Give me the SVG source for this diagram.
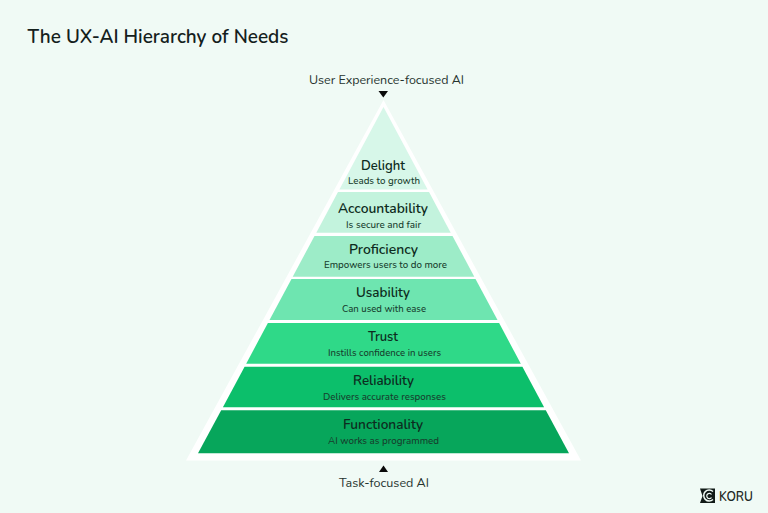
<svg xmlns="http://www.w3.org/2000/svg" width="768" height="513" viewBox="0 0 768 513">
<style>
text{font-family:"Nunito","Lato","Open Sans",sans-serif;text-anchor:middle}
.t{font-size:14px;font-weight:600;fill:#0d2b20}
.s{font-size:9.5px;font-weight:500;fill:#173d2d}
.l{font-size:12.5px;fill:#26332e}
</style>
<rect width="768" height="513" fill="#f0faf5"/>
<text x="158" y="43" font-size="19" font-weight="600" fill="#14201c" textLength="261" lengthAdjust="spacingAndGlyphs">The UX-AI Hierarchy of Needs</text>
<polygon points="383.5,100 581,460.5 186,460.5" fill="#fff"/>
<g id="label-top"><text class="l" x="386.5" y="84" textLength="155" lengthAdjust="spacingAndGlyphs">User Experience-focused AI</text></g>
<g id="connectors" fill="#0a0a0a">
<polygon points="378.5,91 388,91 383.3,97.5"/>
<polygon points="379,472 388,472 383.5,465.5"/>
</g>
<g id="delight"><polygon points="383.5,107 427.6,189.5 339.4,189.5" fill="#d7f7e9"/><text class="t" x="383" y="170" textLength="44" lengthAdjust="spacingAndGlyphs">Delight</text><text class="s" x="384" y="184" textLength="72" lengthAdjust="spacingAndGlyphs">Leads to growth</text></g>
<g id="accountability"><polygon points="338,192 429,192 450.7,232.7 316.3,232.7" fill="#c3f3dd"/><text class="t" x="383" y="213" textLength="90" lengthAdjust="spacingAndGlyphs">Accountability</text><text class="s" x="383.5" y="227.5" textLength="75" lengthAdjust="spacingAndGlyphs">Is secure and fair</text></g>
<g id="proficiency"><polygon points="314.5,236 452.5,236 474.3,276.7 292.7,276.7" fill="#9decc8"/><text class="t" x="383.5" y="254" textLength="69" lengthAdjust="spacingAndGlyphs">Proficiency</text><text class="s" x="385.5" y="268" textLength="123" lengthAdjust="spacingAndGlyphs">Empowers users to do more</text></g>
<g id="usability"><polygon points="291.5,279 475.5,279 497.5,320 269.5,320" fill="#6ee5b0"/><text class="t" x="383" y="297" textLength="54" lengthAdjust="spacingAndGlyphs">Usability</text><text class="s" x="384" y="311.5" textLength="84" lengthAdjust="spacingAndGlyphs">Can used with ease</text></g>
<g id="trust"><polygon points="267.9,323 499.1,323 520.8,363.7 246.2,363.7" fill="#2fd988"/><text class="t" x="383" y="341" textLength="30" lengthAdjust="spacingAndGlyphs">Trust</text><text class="s" x="384.5" y="355.5" textLength="113" lengthAdjust="spacingAndGlyphs">Instills confidence in users</text></g>
<g id="reliability"><polygon points="244.6,366.7 522.4,366.7 544.1,407.3 222.9,407.3" fill="#0cbf6b"/><text class="t" x="383.5" y="385" textLength="61" lengthAdjust="spacingAndGlyphs">Reliability</text><text class="s" x="384.5" y="399.5" textLength="123" lengthAdjust="spacingAndGlyphs">Delivers accurate responses</text></g>
<g id="functionality"><polygon points="221.2,410.3 545.8,410.3 569,453.3 198,453.3" fill="#07a65b"/><text class="t" x="383" y="429" textLength="80" lengthAdjust="spacingAndGlyphs">Functionality</text><text class="s" x="383.5" y="443.5" textLength="111" lengthAdjust="spacingAndGlyphs">AI works as programmed</text></g>
<g id="label-bottom"><text class="l" x="384" y="487" textLength="90" lengthAdjust="spacingAndGlyphs">Task-focused AI</text></g>
<g id="logo">
<polygon points="700,488.5 715,488.5 715,503 700,503 702.5,496" fill="#111a17"/>
<path d="M713 491.5a5.5 5.5 0 1 0 0 8" fill="none" stroke="#f0faf5" stroke-width="1.5"/>
<path d="M711.5 494.5a2.6 2.6 0 1 0 0 3" fill="none" stroke="#f0faf5" stroke-width="1.2"/>
<text x="736" y="501" font-size="13" font-weight="600" fill="#1c2623" textLength="34" lengthAdjust="spacingAndGlyphs">KORU</text>
</g>
</svg>
